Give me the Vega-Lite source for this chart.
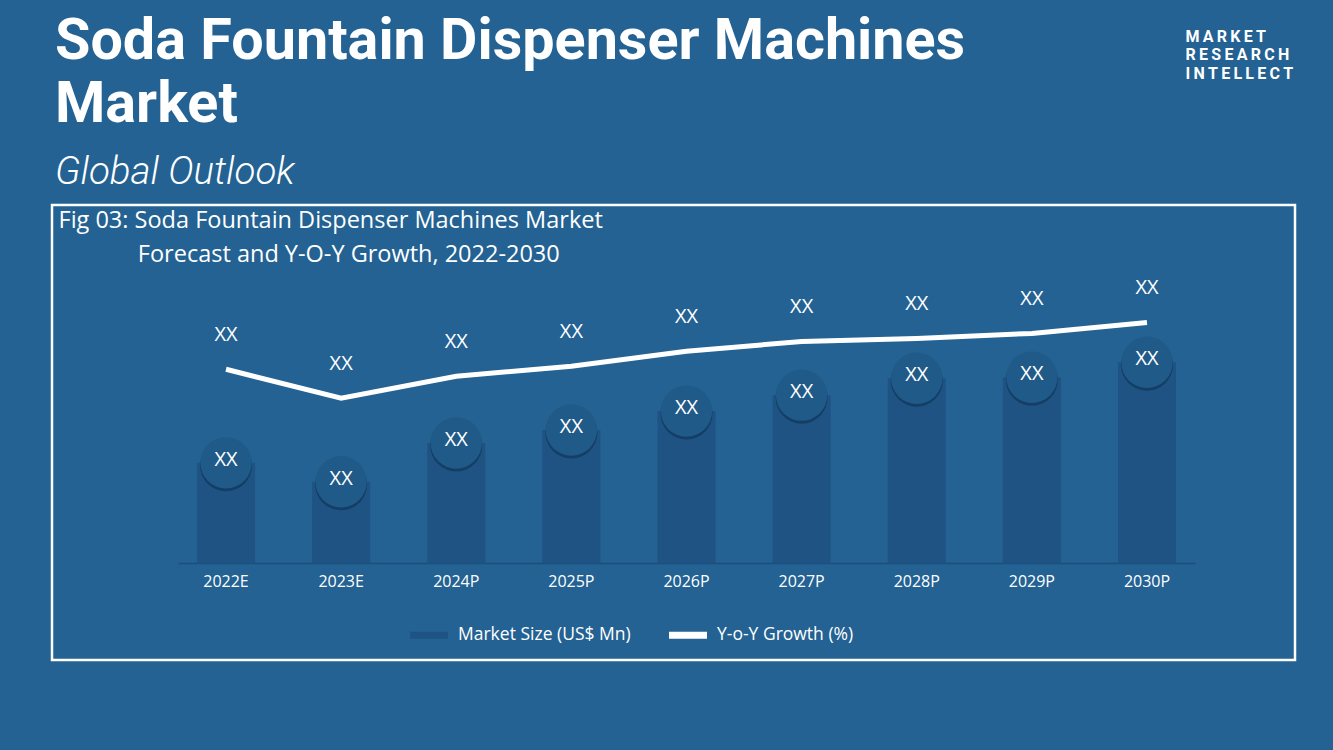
{
  "$schema": "https://vega.github.io/schema/vega-lite/v6.json",
  "width": 1333,
  "height": 750,
  "autosize": {"type": "fit", "contains": "padding"},
  "padding": {"left": 52, "right": 38, "top": 13, "bottom": 90},
  "background": "#236292",
  "config": {"view": {"stroke": "white", "strokeWidth": 2.5}, "font": "Open Sans"},
  "title": {
    "text": ["Soda Fountain Dispenser Machines", "Market"],
    "subtitle": "Global Outlook",
    "anchor": "start",
    "dx": 3,
    "dy": 164,
    "font": "Roboto",
    "fontSize": 57.5,
    "fontWeight": "bold",
    "color": "white",
    "lineHeight": 63,
    "subtitleFont": "Roboto",
    "subtitleFontSize": 38.5,
    "subtitleFontStyle": "italic",
    "subtitleFontWeight": 300,
    "subtitleColor": "white",
    "subtitlePadding": 19,
    "offset": 0
  },
  "data": {
    "values": [
      {"year": "2022E", "size": 10.1, "growth": 19.5, "label": "XX"},
      {"year": "2023E", "size": 8.2, "growth": 16.6, "label": "XX"},
      {"year": "2024P", "size": 12.1, "growth": 18.8, "label": "XX"},
      {"year": "2025P", "size": 13.4, "growth": 19.8, "label": "XX"},
      {"year": "2026P", "size": 15.3, "growth": 21.3, "label": "XX"},
      {"year": "2027P", "size": 16.9, "growth": 22.3, "label": "XX"},
      {"year": "2028P", "size": 18.6, "growth": 22.6, "label": "XX"},
      {"year": "2029P", "size": 18.7, "growth": 23.1, "label": "XX"},
      {"year": "2030P", "size": 20.2, "growth": 24.2, "label": "XX"}
    ]
  },
  "encoding": {
    "x": {
      "field": "year",
      "type": "ordinal",
      "sort": null,
      "scale": {"range": [126, 1143], "paddingInner": 0.496, "paddingOuter": 0.165},
      "axis": {
        "title": null,
        "labelAngle": 0,
        "labelColor": "white",
        "labelFont": "Open Sans",
        "labelFontSize": 16,
        "labelPadding": 10,
        "ticks": false,
        "grid": false,
        "domainColor": "#1b4e7c",
        "domainWidth": 1.5,
        "offset": -97
      }
    }
  },
  "layer": [
    {
      "mark": {"type": "bar", "color": "#1f5383"},
      "encoding": {
        "y": {
          "field": "size",
          "type": "quantitative",
          "scale": {"domain": [-9.7, 36], "nice": false, "zero": false},
          "axis": {
            "orient": "left",
            "labels": false,
            "ticks": false,
            "domain": false,
            "grid": false,
            "title": ["Fig 03: Soda Fountain Dispenser Machines Market", "\u200b\u00a0\u00a0\u00a0\u00a0\u00a0\u00a0\u00a0\u00a0\u00a0\u00a0\u00a0\u00a0\u00a0Forecast and Y-O-Y Growth, 2022-2030"],
            "titleAngle": 0,
            "titleAlign": "left",
            "titleBaseline": "top",
            "titleX": 6,
            "titleY": 3,
            "titleFont": "Open Sans",
            "titleFontSize": 23.5,
            "titleFontWeight": "normal",
            "titleColor": "white",
            "titleLineHeight": 34
          }
        },
        "y2": {"datum": 0},
        "color": {
          "datum": "Market Size (US$ Mn)",
          "type": "nominal",
          "scale": {"domain": ["Market Size (US$ Mn)", "Y-o-Y Growth (%)"], "range": ["#1f5383", "#ffffff"]},
          "legend": {
            "title": null,
            "orient": "none",
            "direction": "horizontal",
            "legendX": 358,
            "legendY": 411,
            "padding": 0,
            "symbolType": "M-1,-0.19H1V0.19H-1Z",
            "symbolSize": 1444,
            "symbolStrokeWidth": 0,
            "symbolOpacity": 1,
            "labelColor": "white",
            "labelFont": "Open Sans",
            "labelFontSize": 17.5,
            "labelLimit": 300,
            "labelOffset": 10,
            "columnPadding": 38
          }
        }
      }
    },
    {
      "mark": {"type": "point", "shape": "circle", "filled": true, "size": 2700, "color": "#133c62", "opacity": 0.9, "yOffset": 2.5},
      "encoding": {
        "y": {"field": "size", "type": "quantitative", "scale": {"domain": [-9.7, 36], "nice": false, "zero": false}, "axis": null}
      }
    },
    {
      "mark": {"type": "point", "shape": "circle", "filled": true, "size": 2640, "color": "#205a88", "opacity": 1},
      "encoding": {
        "y": {"field": "size", "type": "quantitative", "scale": {"domain": [-9.7, 36], "nice": false, "zero": false}, "axis": null}
      }
    },
    {
      "mark": {"type": "text", "color": "white", "font": "Open Sans", "fontSize": 20, "dy": -3},
      "encoding": {
        "y": {"field": "size", "type": "quantitative", "scale": {"domain": [-9.7, 36], "nice": false, "zero": false}, "axis": null},
        "text": {"field": "label"}
      }
    },
    {
      "mark": {"type": "line", "color": "white", "strokeWidth": 5},
      "encoding": {
        "y": {
          "field": "growth",
          "type": "quantitative",
          "scale": {"domain": [-9.7, 36], "nice": false, "zero": false},
          "axis": {
            "orient": "right",
            "labels": false,
            "ticks": false,
            "domain": false,
            "grid": false,
            "title": ["M\u2009A\u2009R\u2009K\u2009E\u2009T", "R\u2009E\u2009S\u2009E\u2009A\u2009R\u2009C\u2009H", "I\u2009N\u2009T\u2009E\u2009L\u2009L\u2009E\u2009C\u2009T"],
            "titleAngle": 0,
            "titleAlign": "left",
            "titleBaseline": "top",
            "titleX": -110,
            "titleY": -177,
            "titleFont": "Roboto",
            "titleFontSize": 16,
            "titleFontWeight": "bold",
            "titleColor": "white",
            "titleLineHeight": 18.5
          }
        }
      }
    },
    {
      "mark": {"type": "text", "color": "white", "font": "Open Sans", "fontSize": 20, "dy": -34},
      "encoding": {
        "y": {"field": "growth", "type": "quantitative", "scale": {"domain": [-9.7, 36], "nice": false, "zero": false}, "axis": null},
        "text": {"field": "label"}
      }
    }
  ],
  "resolve": {"axis": {"y": "independent"}}
}
